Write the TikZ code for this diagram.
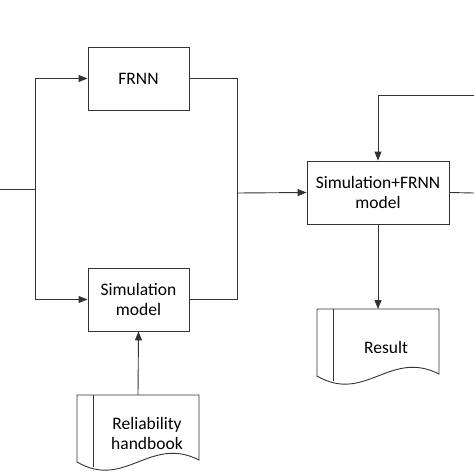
\documentclass[tikz,border=0pt]{standalone}
\usepackage{fontspec}
\setmainfont{Carlito}
\usetikzlibrary{arrows.meta}

\tikzset{
  box/.style={draw=black!80, line width=0.9pt, minimum width=101pt, minimum height=63pt, align=center, inner sep=0pt},
  label/.style={align=center, inner sep=0pt},
  flow/.style={draw=black!80, line width=0.9pt, -{Triangle[length=9pt,width=7pt]}},
  link/.style={draw=black!80, line width=0.9pt},
  docpage/.pic={
    \draw[link] (0,0) -- (122,0) -- (122,65) .. controls (73,40) and (48,95) .. (0,67) -- cycle;
    \draw[link] (16,0) -- (16,72);
  }
}

\begin{document}
\begin{tikzpicture}[x=1pt, y=-1pt, font=\fontsize{17.5}{20}\selectfont]
    \useasboundingbox (0,0) rectangle (474,474);

    % Boxes
    \node[box] (frnn) at (138.5,78.5) {FRNN};
    \node[box] (sim) at (138.5,299.5) {Simulation\\model};
    \node[box, minimum width=142pt] (comb) at (378,192.5) {Simulation+FRNN\\model};

    % Documents
    \pic at (77,395) {docpage};
    \node[label] (hb) at (147,433) {Reliability\\handbook};
    \coordinate (hbtop) at (138,395);
    \pic at (317,309) {docpage};
    \node[label] (res) at (386,347) {Result};
    \coordinate (restop) at (378,309);

    % Split and merge points
    \coordinate (in) at (0,189);
    \coordinate (split) at (35,189);
    \coordinate (merge) at (237,193);
    \coordinate (fb) at (474,95);
    \coordinate (out) at (474,193);

    % Connectors
    \draw[link] (in) -- (split);
    \draw[flow] (split) |- (frnn.west);
    \draw[flow] (split) |- (sim.west);
    \draw[link] (frnn.east) -| (merge);
    \draw[link] (sim.east) -| (merge);
    \draw[flow] (merge) -- (comb.west);
    \draw[flow] (fb) -| (comb.north);
    \draw[link] (comb.east) -- (out);
    \draw[flow] (comb.south) -- (restop);
    \draw[flow] (hbtop) -- (sim.south);
\end{tikzpicture}
\end{document}
